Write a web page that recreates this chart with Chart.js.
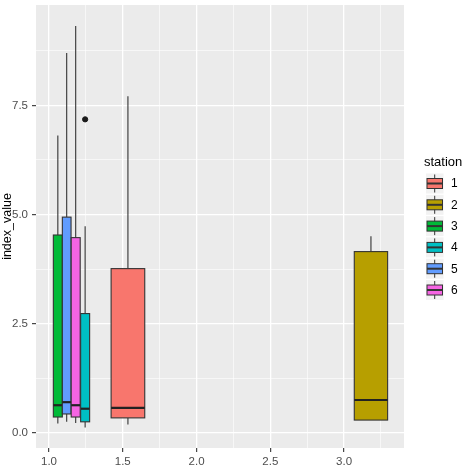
<!DOCTYPE html>
<html>
<head>
<meta charset="utf-8">
<script src="https://cdn.jsdelivr.net/npm/chart.js@4"></script>
<style>
  html, body { margin: 0; padding: 0; background: #ffffff; }
  #wrap { width: 474px; height: 472px; position: relative; }
</style>
</head>
<body>
<div id="wrap"><canvas id="chart0"></canvas></div>
<script>
// data
var stations = ["1", "2", "3", "4", "5", "6"];
var stationColors = ["#F8766D", "#B79F00", "#00BA38", "#00BFC4", "#619CFF", "#F564E3"];
var xPos = [1.535, 3.182, 1.060, 1.245, 1.120, 1.181];
var boxSpan = [0.228, 0.226, 0.061, 0.061, 0.059, 0.061];
var whiskerLow = [0.19, 0.29, 0.21, 0.12, 0.25, 0.22];
var q1 = [0.34, 0.29, 0.36, 0.25, 0.43, 0.36];
var medians = [0.57, 0.75, 0.63, 0.55, 0.70, 0.63];
var q3 = [3.76, 4.15, 4.53, 2.73, 4.94, 4.47];
var whiskerHigh = [7.71, 4.50, 6.81, 4.73, 8.70, 9.32];
var outliers = [[], [], [], [7.18], [], []];

var yTicks = [0, 1.25, 2.5, 3.75, 5, 6.25, 7.5, 8.75];
var yLabels = ["0.0", "", "2.5", "", "5.0", "", "7.5", ""];
var xTicks = [1, 1.25, 1.5, 1.75, 2, 2.25, 2.5, 2.75, 3, 3.25];
var xLabels = ["1.0", "", "1.5", "", "2.0", "", "2.5", "", "3.0", ""];

var FONT = "'Liberation Sans', Arial, sans-serif";

document.addEventListener("DOMContentLoaded", function() {
  var ctx = document.getElementById("chart0").getContext("2d");

  // outlier points go through the chart as scatter data
  var datasets = stations.map(function(s, i) {
    return {
      label: s,
      data: outliers[i].map(function(v) { return { x: xPos[i], y: v }; }),
      pointRadius: 2.6,
      pointBackgroundColor: "#1a1a1a",
      pointBorderColor: "#1a1a1a",
      showLine: false
    };
  });

  var panelBg = {
    id: "panelBg",
    beforeDraw: function(chart) {
      var a = chart.chartArea, c = chart.ctx;
      c.save();
      c.fillStyle = "#EBEBEB";
      c.fillRect(a.left, a.top, a.right - a.left, a.bottom - a.top);
      c.restore();
    }
  };

  var boxes = {
    id: "boxes",
    beforeDatasetsDraw: function(chart) {
      var c = chart.ctx, xs = chart.scales.x, ys = chart.scales.y;
      c.save();
      stations.forEach(function(s, i) {
        var cx = xs.getPixelForValue(xPos[i]);
        var l = xs.getPixelForValue(xPos[i] - boxSpan[i] / 2);
        var r = xs.getPixelForValue(xPos[i] + boxSpan[i] / 2);
        var yLo = ys.getPixelForValue(whiskerLow[i]);
        var yQ1 = ys.getPixelForValue(q1[i]);
        var yMed = ys.getPixelForValue(medians[i]);
        var yQ3 = ys.getPixelForValue(q3[i]);
        var yHi = ys.getPixelForValue(whiskerHigh[i]);
        c.strokeStyle = "#333333";
        c.lineWidth = 1.1;
        c.beginPath();
        c.moveTo(cx, yHi); c.lineTo(cx, yQ3);
        c.moveTo(cx, yQ1); c.lineTo(cx, yLo);
        c.stroke();
        c.fillStyle = stationColors[i];
        c.fillRect(l, yQ3, r - l, yQ1 - yQ3);
        c.strokeRect(l, yQ3, r - l, yQ1 - yQ3);
        c.lineWidth = 2.2;
        c.strokeStyle = "#222222";
        c.beginPath();
        c.moveTo(l, yMed); c.lineTo(r, yMed);
        c.stroke();
      });
      c.restore();
    }
  };

  // ggplot style legend on the right
  var legendBox = {
    id: "legendBox",
    afterDraw: function(chart) {
      var c = chart.ctx;
      c.save();
      c.fillStyle = "#000000";
      c.font = "13px " + FONT;
      c.textAlign = "left";
      c.textBaseline = "middle";
      c.fillText("station", 424, 162);
      stations.forEach(function(s, i) {
        var cy = 183.5 + i * 21.3;
        c.fillStyle = "#F2F2F2";
        c.fillRect(426, cy - 10, 17.5, 20);
        c.strokeStyle = "#333333";
        c.lineWidth = 1;
        c.beginPath();
        c.moveTo(434.7, cy - 9); c.lineTo(434.7, cy + 9);
        c.stroke();
        c.fillStyle = stationColors[i];
        c.fillRect(427, cy - 5, 15.5, 10);
        c.strokeRect(427, cy - 5, 15.5, 10);
        c.lineWidth = 2;
        c.beginPath();
        c.moveTo(427, cy); c.lineTo(442.5, cy);
        c.stroke();
        c.fillStyle = "#000000";
        c.font = "12px " + FONT;
        c.fillText(s, 451, cy + 0.5);
      });
      c.restore();
    }
  };

  function gridWidth(labels) {
    return function(context) {
      if (!context.tick) return 0;
      var idx = context.index;
      return labels[idx] !== "" ? 1.3 : 0.6;
    };
  }
  function tickCol(labels) {
    return function(context) {
      return labels[context.index] !== "" ? "#333333" : "rgba(0,0,0,0)";
    };
  }

  var chart0 = new Chart(ctx, {
    type: "scatter",
    data: { datasets: datasets },
    options: {
      responsive: true,
      maintainAspectRatio: false,
      animation: false,
      layout: { padding: { top: 4, right: 70, left: 0, bottom: 0 } },
      plugins: {
        legend: { display: false },
        tooltip: { enabled: false }
      },
      scales: {
        x: {
          type: "linear",
          min: 0.912,
          max: 3.406,
          afterBuildTicks: function(scale) {
            scale.ticks = xTicks.map(function(v) { return { value: v }; });
          },
          afterFit: function(scale) {
            scale.height = 24;
            scale.paddingLeft = 0;
            scale.paddingRight = 0;
          },
          border: { display: false },
          grid: {
            color: "#ffffff",
            lineWidth: gridWidth(xLabels),
            drawTicks: true,
            tickLength: 4,
            tickColor: tickCol(xLabels),
            tickWidth: 1.1
          },
          ticks: {
            autoSkip: false,
            maxRotation: 0,
            padding: 3,
            color: "#4D4D4D",
            font: { family: FONT, size: 11.5 },
            callback: function(v, i) { return xLabels[i]; }
          }
        },
        y: {
          type: "linear",
          min: -0.35,
          max: 9.8,
          afterBuildTicks: function(scale) {
            scale.ticks = yTicks.map(function(v) { return { value: v }; });
          },
          afterFit: function(scale) {
            scale.width = 36;
            scale.paddingTop = 0;
            scale.paddingBottom = 0;
          },
          border: { display: false },
          grid: {
            color: "#ffffff",
            lineWidth: gridWidth(yLabels),
            drawTicks: true,
            tickLength: 4,
            tickColor: tickCol(yLabels),
            tickWidth: 1.1
          },
          title: {
            display: true,
            text: "index_value",
            color: "#000000",
            font: { family: FONT, size: 12.5 },
            padding: { top: 0, bottom: 0 }
          },
          ticks: {
            autoSkip: false,
            padding: 4,
            color: "#4D4D4D",
            font: { family: FONT, size: 11.5 },
            callback: function(v, i) { return yLabels[i]; }
          }
        }
      }
    },
    plugins: [panelBg, boxes, legendBox]
  });

  window.addEventListener("resize", function() {
    chart0.update();
  });
});
</script>
</body>
</html>
